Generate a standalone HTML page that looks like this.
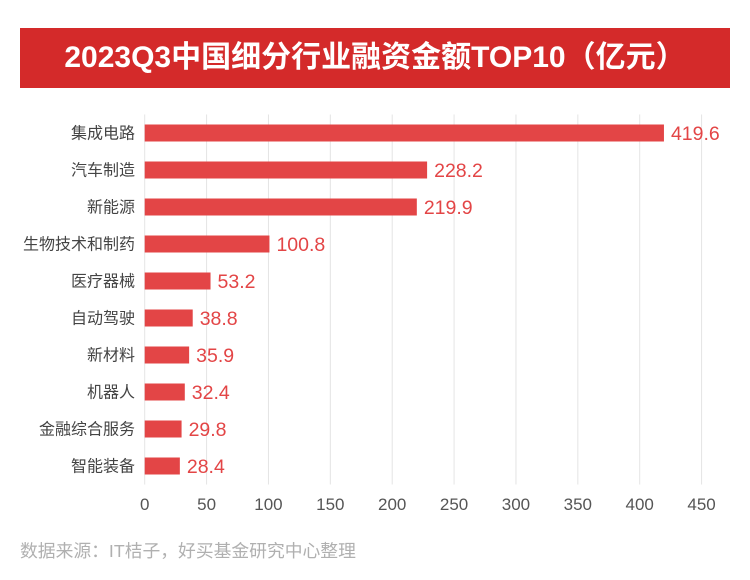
<!DOCTYPE html>
<html><head><meta charset="utf-8"><style>
body{margin:0;background:#fff;width:750px;height:580px;overflow:hidden;font-family:"Liberation Sans","Noto Sans CJK SC",sans-serif}
#banner{position:absolute;left:20px;top:28px;width:710px;height:60px;background:#d42a2a;color:#fff;font-size:30px;font-weight:bold;text-align:center;line-height:60px}
#src{position:absolute;left:20px;top:537px;font-size:17.8px;color:#b0b0b0}
svg{position:absolute;left:0;top:0}
</style></head><body>
<div id="banner">2023Q3中国细分行业融资金额TOP10（亿元）</div>
<svg id="chart" width="750" height="580"></svg>
<div id="src">数据来源：IT桔子，好买基金研究中心整理</div>
<script>
const categories=["集成电路","汽车制造","新能源","生物技术和制药","医疗器械","自动驾驶","新材料","机器人","金融综合服务","智能装备"];
const values=[419.6,228.2,219.9,100.8,53.2,38.8,35.9,32.4,29.8,28.4];
const ticks=[0,50,100,150,200,250,300,350,400,450];
const svg=document.getElementById('chart');const NS='http://www.w3.org/2000/svg';
const x0=144.7,k=1.2375,top0=114.5,band=37;
const X=v=>x0+v*k;const Y=i=>top0+band*i+band/2;
function mk(t,a){const e=document.createElementNS(NS,t);for(const n in a)e.setAttribute(n,a[n]);svg.appendChild(e);return e;}
ticks.forEach(t=>{
 const l=mk('line',{x1:X(t),x2:X(t),y1:top0,y2:top0+band*10,stroke:'#e4e4e4','stroke-width':1});
 
 
 const tx=mk('text',{x:X(t),y:510,'text-anchor':'middle','font-size':17,fill:'#555'});tx.textContent=t;
 
 
});
categories.forEach((c,i)=>{
 const r=mk('rect',{x:X(0),y:Y(i)-8.5,width:X(values[i])-X(0),height:17,fill:'#e34546'});
 
 
 const cl=mk('text',{x:135,y:Y(i)+5.5,'text-anchor':'end','font-size':16,fill:'#444'});cl.textContent=c;
 
 
 const vl=mk('text',{x:X(values[i])+7,y:Y(i)+7,'font-size':19.5,fill:'#e34546'});vl.textContent=values[i].toFixed(1);
 
 
});
</script>
</body></html>
